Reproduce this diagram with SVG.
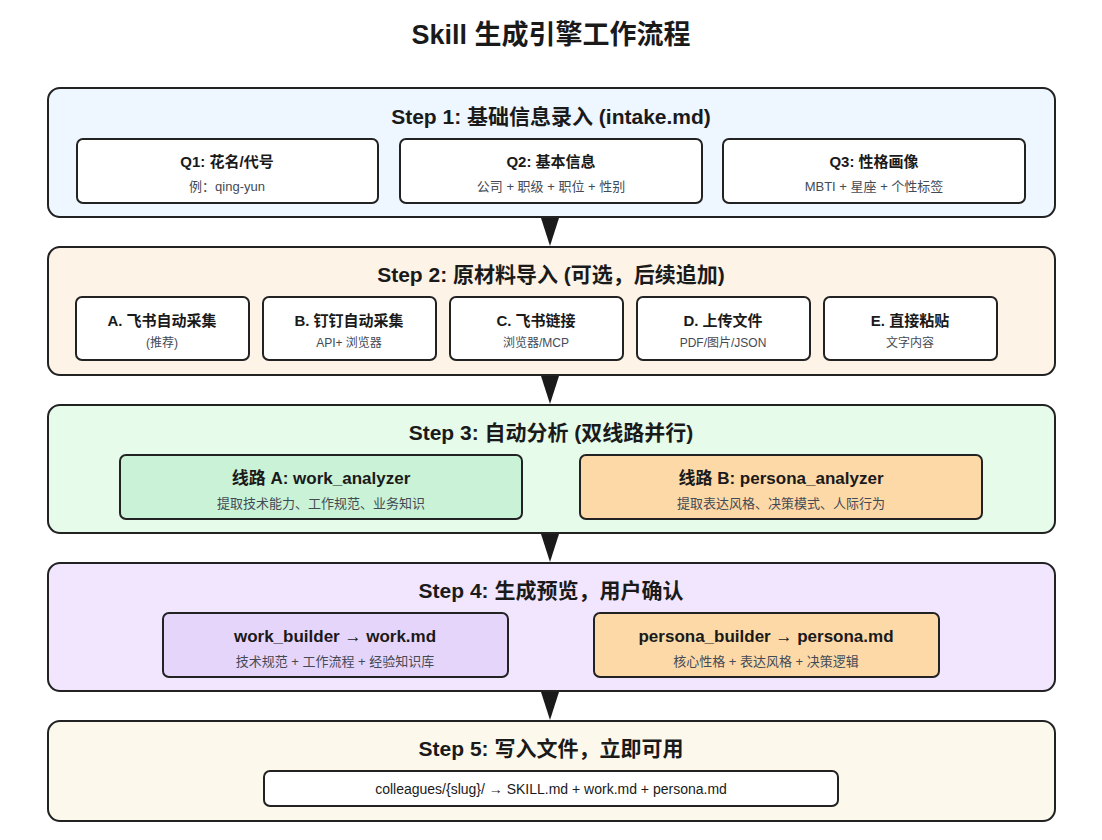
<svg xmlns="http://www.w3.org/2000/svg" width="1102" height="840" viewBox="0 0 1102 840">
<style>
text{font-family:"Liberation Sans","Noto Sans CJK SC",sans-serif;text-anchor:middle}
.s{stroke:#222;stroke-width:2}
.t{font-size:21px;font-weight:bold;fill:#1a1a1a}
.h{font-size:15px;font-weight:bold;fill:#1a1a1a}
.h2{font-size:17px;font-weight:bold;fill:#1a1a1a}
.d{font-size:12px;fill:#444a55}
.d2{font-size:13px;fill:#444a55}
</style>
<defs><marker id="a" markerWidth="18" markerHeight="24" refX="20" refY="9" orient="auto" markerUnits="userSpaceOnUse"><path d="M0,0L22,9L0,18z" fill="#1a1a1a"/></marker></defs>
<rect width="1102" height="840" fill="#fff"/>
<text x="551" y="44" style="font-size:27px;font-weight:bold;fill:#1a1a1a">Skill 生成引擎工作流程</text>
<g id="connectors" stroke="#1a1a1a" stroke-width="2">
<path d="M541,218L559,218L550,246z" stroke="none" fill="#1a1a1a"/>
<path d="M541,376L559,376L550,404z" stroke="none" fill="#1a1a1a"/>
<path d="M541,534L559,534L550,562z" stroke="none" fill="#1a1a1a"/>
<path d="M541,692L559,692L550,720z" stroke="none" fill="#1a1a1a"/>
</g>
<g id="step1"><rect class="s" x="48" y="88" width="1007" height="129" rx="12" fill="#eef6ff"/>
<text class="t" x="551" y="124">Step 1: 基础信息录入 (intake.md)</text></g>
<g id="q1"><rect class="s" x="77" y="139" width="301" height="64" rx="6" fill="#fff"/><text class="h" x="227" y="167">Q1: 花名/代号</text><text class="d2" x="227" y="191">例：qing-yun</text></g>
<g id="q2"><rect class="s" x="400" y="139" width="302" height="64" rx="6" fill="#fff"/><text class="h" x="551" y="167">Q2: 基本信息</text><text class="d2" x="551" y="191">公司 + 职级 + 职位 + 性别</text></g>
<g id="q3"><rect class="s" x="723" y="139" width="302" height="64" rx="6" fill="#fff"/><text class="h" x="874" y="167">Q3: 性格画像</text><text class="d2" x="874" y="191">MBTI + 星座 + 个性标签</text></g>
<g id="step2"><rect class="s" x="48" y="247" width="1007" height="128" rx="12" fill="#fdf3e6"/>
<text class="t" x="551" y="282">Step 2: 原材料导入 (可选，后续追加)</text></g>
<g id="a1"><rect class="s" x="76" y="297" width="173" height="63" rx="6" fill="#fff"/><text class="h" x="162" y="326">A. 飞书自动采集</text><text class="d" x="162" y="347">(推荐)</text></g>
<g id="b1"><rect class="s" x="263" y="297" width="173" height="63" rx="6" fill="#fff"/><text class="h" x="349" y="326">B. 钉钉自动采集</text><text class="d" x="349" y="347">API+ 浏览器</text></g>
<g id="c1"><rect class="s" x="450" y="297" width="173" height="63" rx="6" fill="#fff"/><text class="h" x="536" y="326">C. 飞书链接</text><text class="d" x="536" y="347">浏览器/MCP</text></g>
<g id="d1"><rect class="s" x="637" y="297" width="173" height="63" rx="6" fill="#fff"/><text class="h" x="723" y="326">D. 上传文件</text><text class="d" x="723" y="347">PDF/图片/JSON</text></g>
<g id="e1"><rect class="s" x="824" y="297" width="173" height="63" rx="6" fill="#fff"/><text class="h" x="910" y="326">E. 直接粘贴</text><text class="d" x="910" y="347">文字内容</text></g>
<g id="step3"><rect class="s" x="48" y="405" width="1007" height="128" rx="12" fill="#e6fbea"/>
<text class="t" x="551" y="440">Step 3: 自动分析 (双线路并行)</text></g>
<g id="la"><rect class="s" x="120" y="455" width="402" height="64" rx="6" fill="#c9f2d6"/><text class="h2" x="321" y="484">线路 A: work_analyzer</text><text class="d2" x="321" y="508">提取技术能力、工作规范、业务知识</text></g>
<g id="lb"><rect class="s" x="580" y="455" width="402" height="64" rx="6" fill="#fdd9a8"/><text class="h2" x="781" y="484">线路 B: persona_analyzer</text><text class="d2" x="781" y="508">提取表达风格、决策模式、人际行为</text></g>
<g id="step4"><rect class="s" x="48" y="563" width="1007" height="128" rx="12" fill="#f1e6fe"/>
<text class="t" x="551" y="598">Step 4: 生成预览，用户确认</text></g>
<g id="wb"><rect class="s" x="163" y="613" width="345" height="64" rx="6" fill="#e6d5fb"/><text class="h2" x="335" y="642">work_builder → work.md</text><text class="d2" x="335" y="666">技术规范 + 工作流程 + 经验知识库</text></g>
<g id="pb"><rect class="s" x="594" y="613" width="345" height="64" rx="6" fill="#fdd9a8"/><text class="h2" x="766" y="642">persona_builder → persona.md</text><text class="d2" x="766" y="666">核心性格 + 表达风格 + 决策逻辑</text></g>
<g id="step5"><rect class="s" x="48" y="721" width="1007" height="100" rx="12" fill="#fdf8ec"/>
<text class="t" x="551" y="756">Step 5: 写入文件，立即可用</text></g>
<g id="out"><rect class="s" x="264" y="771" width="574" height="35" rx="6" fill="#fff"/><text x="551" y="794" style="font-size:14px;fill:#1a1a1a">colleagues/{slug}/ → SKILL.md + work.md + persona.md</text></g>
</svg>
